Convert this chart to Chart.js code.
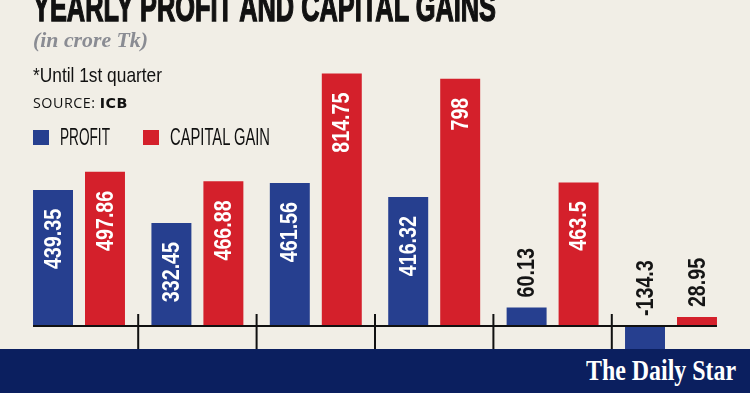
<!DOCTYPE html>
<html>
<head>
<meta charset="utf-8">
<script src="https://cdn.jsdelivr.net/npm/chart.js@4/dist/chart.umd.min.js"></script>
<style>
  html, body { margin: 0; padding: 0; }
  body { width: 750px; height: 393px; overflow: hidden; background: #f1eee6; position: relative; }
  #chart { position: absolute; left: 0; top: 0; }
  .txt { position: absolute; white-space: nowrap; line-height: 1; transform-origin: 0 0; }
  .mark { display: inline-block; width: 0; height: 0; vertical-align: baseline; }
  .title { font: bold 40px "Liberation Sans Narrow", "Liberation Sans", sans-serif; color: #111; -webkit-text-stroke: 1.4px #111; }
  .sub { font: italic bold 21px "Liberation Serif", serif; color: #8a8c93; }
  .note { font: 21px "Liberation Sans Narrow", "Liberation Sans", sans-serif; color: #111; }
  .source { font: 14px "Open Sans", sans-serif; color: #111; letter-spacing: 0.5px; }
  .source b { font-family: "DejaVu Sans", sans-serif; font-weight: bold; }
  .leg { font: 23px "Liberation Sans Narrow", "Liberation Sans", sans-serif; color: #111; }
  .box { position: absolute; width: 16px; height: 15px; top: 130px; }
  #band { position: absolute; left: 0; top: 349px; width: 750px; height: 44px; background: #0b1f5f; }
  .logo { font: bold 30px "Liberation Serif", serif; color: #fff; }
</style>
</head>
<body>
<canvas id="chart" width="750" height="393"></canvas>

<div class="txt title" data-x="33" data-base="21" data-w="463">YEARLY PROFIT AND CAPITAL GAINS</div>
<div class="txt sub" data-x="33" data-base="47" data-w="115">(in crore Tk)</div>
<div class="txt note" data-x="33" data-base="82" data-w="129">*Until 1st quarter</div>
<div class="txt source" data-x="33" data-base="108" data-w="95">SOURCE: <b>ICB</b></div>

<div class="box" style="left:33px;background:#263f8f"></div>
<div class="txt leg" data-x="60" data-base="145" data-w="50">PROFIT</div>
<div class="box" style="left:143px;background:#d4202b"></div>
<div class="txt leg" data-x="170" data-base="145" data-w="100">CAPITAL GAIN</div>

<div id="band"></div>
<div class="txt logo" data-x="586" data-base="380" data-w="150">The Daily Star</div>

<script>
const years = ['2017-18', '2018-19', '2019-20', '2020-21', '2021-22', '2022-23*'];
const profit = [439.35, 332.45, 461.56, 416.32, 60.13, -134.3];
const capitalGain = [497.86, 466.88, 814.75, 798, 463.5, 28.95];

const blue = '#263f8f';
const red = '#d4202b';

// put every text on its baseline and squeeze it to the measured width
document.querySelectorAll('.txt').forEach(el => {
  const mark = document.createElement('span');
  mark.className = 'mark';
  el.appendChild(mark);
  el.style.left = el.dataset.x + 'px';
  el.style.top = '0px';
  const base = mark.getBoundingClientRect().top;
  el.style.top = (el.dataset.base - base) + 'px';
  const w = el.getBoundingClientRect().width;
  el.style.transform = 'scaleX(' + (el.dataset.w / w) + ')';
});

const labelFont = 'bold 24px "Liberation Sans", sans-serif';
const squeeze = 0.82; // condensed look

const barDecor = {
  id: 'barDecor',
  afterDatasetsDraw(chart) {
    const c = chart.ctx;
    const xs = chart.scales.x;
    const y0 = chart.scales.y.getPixelForValue(0);
    const m0 = chart.getDatasetMeta(0).data;
    const m1 = chart.getDatasetMeta(1).data;

    // axis line and group separators
    c.save();
    c.strokeStyle = '#111';
    c.lineWidth = 2;
    c.beginPath();
    c.moveTo(m0[0].x - m0[0].width / 2, y0);
    c.lineTo(m1[m1.length - 1].x + m1[m1.length - 1].width / 2, y0);
    for (let i = 1; i < years.length; i++) {
      const bx = (xs.getPixelForValue(i - 1) + xs.getPixelForValue(i)) / 2;
      c.moveTo(bx, y0 - 12);
      c.lineTo(bx, chart.height);
    }
    c.stroke();

    // value labels, rotated
    c.font = labelFont;
    c.textBaseline = 'middle';
    chart.data.datasets.forEach((ds, di) => {
      chart.getDatasetMeta(di).data.forEach((bar, i) => {
        const txt = String(ds.data[i]);
        const tw = c.measureText(txt).width * squeeze;
        const h = bar.base - bar.y;
        c.save();
        if (h > tw + 25) {
          c.translate(bar.x + 1, bar.y + 19);
          c.rotate(-Math.PI / 2);
          c.textAlign = 'right';
          c.fillStyle = '#fff';
        } else {
          c.translate(bar.x + 1, Math.min(bar.y, bar.base) - 10);
          c.rotate(-Math.PI / 2);
          c.textAlign = 'left';
          c.fillStyle = '#151515';
        }
        c.scale(squeeze, 1);
        c.fillText(txt, 0, 0);
        c.restore();
      });
    });
    c.restore();
  }
};

new Chart(document.getElementById('chart'), {
  type: 'bar',
  data: {
    labels: years,
    datasets: [
      { label: 'PROFIT', data: profit, backgroundColor: blue },
      { label: 'CAPITAL GAIN', data: capitalGain, backgroundColor: red }
    ]
  },
  options: {
    responsive: false,
    animation: false,
    devicePixelRatio: 1,
    layout: { padding: { left: 19.8, right: 19.8, top: 0, bottom: 0 } },
    datasets: { bar: { categoryPercentage: 0.878, barPercentage: 0.769 } },
    scales: {
      x: { display: false },
      y: { display: false, min: -216, max: 1052 }
    },
    plugins: { legend: { display: false }, tooltip: { enabled: false } }
  },
  plugins: [barDecor]
});
</script>
</body>
</html>
